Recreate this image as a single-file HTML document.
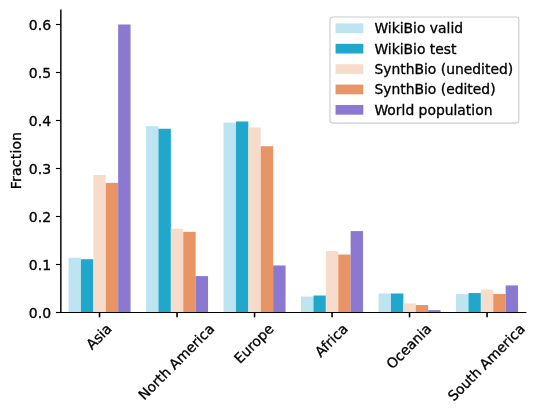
<!DOCTYPE html>
<html lang="en"><head><meta charset="utf-8"><title>Fraction by continent</title>
<style>html,body{margin:0;padding:0;background:#fff}svg{display:block}text{font-family:"DejaVu Sans","Liberation Sans",sans-serif;font-size:13.89px;fill:#000;stroke:#000;stroke-width:0.32px}</style></head><body>
<svg width="538" height="414" viewBox="0 0 538 414">
<rect width="538" height="414" fill="#fff"/>
<rect x="68.55" y="257.78" width="12.40" height="54.72" fill="#bce4f1"/>
<rect x="80.95" y="259.22" width="12.40" height="53.28" fill="#1fa8cc"/>
<rect x="93.35" y="174.88" width="12.40" height="137.62" fill="#f8dccb"/>
<rect x="105.75" y="182.90" width="12.40" height="129.60" fill="#e99465"/>
<rect x="118.15" y="24.50" width="12.40" height="288.00" fill="#8b78d0"/>
<rect x="146.05" y="126.26" width="12.40" height="186.24" fill="#bce4f1"/>
<rect x="158.45" y="128.76" width="12.40" height="183.74" fill="#1fa8cc"/>
<rect x="170.85" y="228.69" width="12.40" height="83.81" fill="#f8dccb"/>
<rect x="183.25" y="231.86" width="12.40" height="80.64" fill="#e99465"/>
<rect x="195.65" y="276.07" width="12.40" height="36.43" fill="#8b78d0"/>
<rect x="223.55" y="122.61" width="12.40" height="189.89" fill="#bce4f1"/>
<rect x="235.95" y="121.46" width="12.40" height="191.04" fill="#1fa8cc"/>
<rect x="248.35" y="127.41" width="12.40" height="185.09" fill="#f8dccb"/>
<rect x="260.75" y="146.18" width="12.40" height="166.32" fill="#e99465"/>
<rect x="273.15" y="265.46" width="12.40" height="47.04" fill="#8b78d0"/>
<rect x="301.05" y="296.52" width="12.40" height="15.98" fill="#bce4f1"/>
<rect x="313.45" y="295.51" width="12.40" height="16.99" fill="#1fa8cc"/>
<rect x="325.85" y="251.06" width="12.40" height="61.44" fill="#f8dccb"/>
<rect x="338.25" y="254.52" width="12.40" height="57.98" fill="#e99465"/>
<rect x="350.65" y="231.09" width="12.40" height="81.41" fill="#8b78d0"/>
<rect x="378.55" y="293.49" width="12.40" height="19.01" fill="#bce4f1"/>
<rect x="390.95" y="293.49" width="12.40" height="19.01" fill="#1fa8cc"/>
<rect x="403.35" y="303.50" width="12.40" height="9.00" fill="#f8dccb"/>
<rect x="415.75" y="305.01" width="12.40" height="7.49" fill="#e99465"/>
<rect x="428.15" y="310.10" width="12.40" height="2.40" fill="#8b78d0"/>
<rect x="456.05" y="294.16" width="12.40" height="18.34" fill="#bce4f1"/>
<rect x="468.45" y="293.06" width="12.40" height="19.44" fill="#1fa8cc"/>
<rect x="480.85" y="289.51" width="12.40" height="22.99" fill="#f8dccb"/>
<rect x="493.25" y="293.97" width="12.40" height="18.53" fill="#e99465"/>
<rect x="505.65" y="285.43" width="12.40" height="27.07" fill="#8b78d0"/>
<path d="M60.85 9.55V313.05" fill="none" stroke="#000" stroke-width="1.45" stroke-linecap="butt"/>
<path d="M60.80 312.50H525.80" fill="none" stroke="#000" stroke-width="1.11" stroke-linecap="square"/>
<path d="M60.80 312.50h-4.86" stroke="#000" stroke-width="1.11"/>
<text text-anchor="end" transform="translate(51.08 317.85) scale(1.01 1.04)">0.0</text>
<path d="M60.80 264.50h-4.86" stroke="#000" stroke-width="1.11"/>
<text text-anchor="end" transform="translate(51.08 269.85) scale(1.01 1.04)">0.1</text>
<path d="M60.80 216.50h-4.86" stroke="#000" stroke-width="1.11"/>
<text text-anchor="end" transform="translate(51.08 221.85) scale(1.01 1.04)">0.2</text>
<path d="M60.80 168.50h-4.86" stroke="#000" stroke-width="1.11"/>
<text text-anchor="end" transform="translate(51.08 173.85) scale(1.01 1.04)">0.3</text>
<path d="M60.80 120.50h-4.86" stroke="#000" stroke-width="1.11"/>
<text text-anchor="end" transform="translate(51.08 125.85) scale(1.01 1.04)">0.4</text>
<path d="M60.80 72.50h-4.86" stroke="#000" stroke-width="1.11"/>
<text text-anchor="end" transform="translate(51.08 77.85) scale(1.01 1.04)">0.5</text>
<path d="M60.80 24.50h-4.86" stroke="#000" stroke-width="1.11"/>
<text text-anchor="end" transform="translate(51.08 29.85) scale(1.01 1.04)">0.6</text>
<path d="M99.55 312.50v4.86" stroke="#000" stroke-width="1.6"/>
<text transform="translate(91.97 350.27) rotate(-45)">Asia</text>
<path d="M177.05 312.50v4.86" stroke="#000" stroke-width="1.6"/>
<text transform="translate(144.21 400.79) rotate(-45)">North America</text>
<path d="M254.55 312.50v4.86" stroke="#000" stroke-width="1.6"/>
<text transform="translate(239.99 364.22) rotate(-45)">Europe</text>
<path d="M332.05 312.50v4.86" stroke="#000" stroke-width="1.6"/>
<text transform="translate(320.76 357.69) rotate(-45)">Africa</text>
<path d="M409.55 312.50v4.86" stroke="#000" stroke-width="1.6"/>
<text transform="translate(392.18 369.85) rotate(-45)">Oceania</text>
<path d="M487.05 312.50v4.86" stroke="#000" stroke-width="1.6"/>
<text transform="translate(453.67 401.86) rotate(-45)">South America</text>
<text text-anchor="middle" letter-spacing="0.26" transform="translate(20.55 160.40) rotate(-90) scale(1 1.04)">Fraction</text>
<rect x="330.00" y="17.04" width="188.86" height="106.10" rx="2.78" ry="2.78" fill="#fff" fill-opacity="0.8" stroke="#ccc" stroke-width="1.11"/>
<rect x="335.56" y="23.43" width="27.78" height="9.72" fill="#bce4f1"/>
<text x="374.45" y="33.15">WikiBio valid</text>
<rect x="335.56" y="43.82" width="27.78" height="9.72" fill="#1fa8cc"/>
<text x="374.45" y="53.54">WikiBio test</text>
<rect x="335.56" y="64.20" width="27.78" height="9.72" fill="#f8dccb"/>
<text x="374.45" y="73.92">SynthBio (unedited)</text>
<rect x="335.56" y="84.59" width="27.78" height="9.72" fill="#e99465"/>
<text x="374.45" y="94.31">SynthBio (edited)</text>
<rect x="335.56" y="104.97" width="27.78" height="9.72" fill="#8b78d0"/>
<text x="374.45" y="114.69">World population</text>
</svg></body></html>
